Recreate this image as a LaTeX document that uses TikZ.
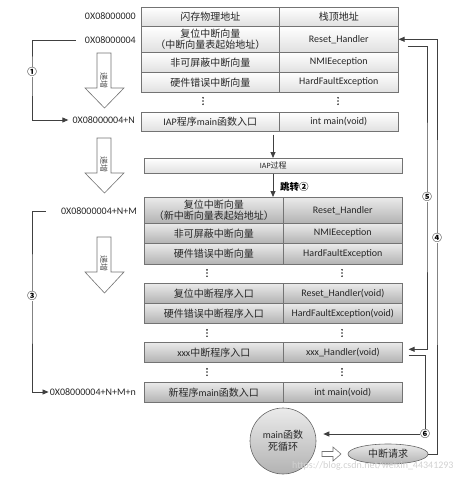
\documentclass[tikz,border=0pt]{standalone}
\usepackage{fontspec}
\setmainfont{Carlito}
\newfontfamily\cjk{Noto Sans CJK SC}
\usetikzlibrary{shapes.geometric,arrows.meta,calc}
\begin{document}
\begin{tikzpicture}[x=1pt,y=-1pt,
  wcell/.style={draw=black!55, line width=0.6pt, top color=white, bottom color=black!12, inner sep=0pt, anchor=north west, align=center, text=black!85, font=\fontsize{10}{11.5}\selectfont},
  gcell/.style={wcell, top color=black!8, bottom color=black!30},
  lbl/.style={anchor=east, inner sep=0pt, text=black!85, font=\fontsize{10}{11}\selectfont},
  conn/.style={draw=black!75, line width=0.8pt},
  arr/.style={conn, -{Triangle[length=6pt,width=5pt]}},
  circnum/.style={fill=white, inner sep=0.3pt, text=black, font=\cjk\bfseries\fontsize{9.5}{10}\selectfont},
  blockarr/.style={draw=black!55, fill=white, line width=0.6pt},
  dotc/.style={fill=black!85, draw=none},
]
\useasboundingbox (0,0) rectangle (474,479);

% ---------- top table ----------
\node[wcell, minimum width=138pt, minimum height=19pt] (a1) at (141,7) {\cjk 闪存物理地址};
\node[wcell, minimum width=119pt, minimum height=19pt] (b1) at (279,7) {\cjk 栈顶地址};
\node[wcell, minimum width=138pt, minimum height=26pt] (a2) at (141,26) {\cjk 复位中断向量\\\cjk（中断向量表起始地址）};
\node[wcell, minimum width=119pt, minimum height=26pt] (b2) at (279,26) {Reset\_Handler};
\node[wcell, minimum width=138pt, minimum height=20pt] (a3) at (141,52) {\cjk 非可屏蔽中断向量};
\node[wcell, minimum width=119pt, minimum height=20pt] (b3) at (279,52) {NMIEeception};
\node[wcell, minimum width=138pt, minimum height=20pt] (a4) at (141,72) {\cjk 硬件错误中断向量};
\node[wcell, minimum width=119pt, minimum height=20pt] (b4) at (279,72) {HardFaultException};
\node[wcell, minimum width=138pt, minimum height=19pt] (a5) at (141,112) {IAP{\cjk 程序}main{\cjk 函数入口}};
\node[wcell, minimum width=119pt, minimum height=19pt] (b5) at (279,112) {int main(void)};

% IAP process
\node[wcell, minimum width=258pt, minimum height=15pt, font=\fontsize{8}{9}\selectfont] (iap) at (144,158) {IAP{\cjk 过程}};

% ---------- gray table ----------
\node[gcell, minimum width=139pt, minimum height=26pt] (g1a) at (144,197) {\cjk 复位中断向量\\\cjk（新中断向量表起始地址）};
\node[gcell, minimum width=119pt, minimum height=26pt] (g1b) at (283,197) {Reset\_Handler};
\node[gcell, minimum width=139pt, minimum height=20pt] (g2a) at (144,223) {\cjk 非可屏蔽中断向量};
\node[gcell, minimum width=119pt, minimum height=20pt] (g2b) at (283,223) {NMIEeception};
\node[gcell, minimum width=139pt, minimum height=21pt] (g3a) at (144,243) {\cjk 硬件错误中断向量};
\node[gcell, minimum width=119pt, minimum height=21pt] (g3b) at (283,243) {HardFaultException};
\node[gcell, minimum width=139pt, minimum height=20pt] (g4a) at (144,283) {\cjk 复位中断程序入口};
\node[gcell, minimum width=119pt, minimum height=20pt] (g4b) at (283,283) {Reset\_Handler(void)};
\node[gcell, minimum width=139pt, minimum height=20pt] (g5a) at (144,303) {\cjk 硬件错误中断程序入口};
\node[gcell, minimum width=119pt, minimum height=20pt] (g5b) at (283,303) {HardFaultException(void)};
\node[gcell, minimum width=139pt, minimum height=20pt] (g6a) at (144,342) {xxx{\cjk 中断程序入口}};
\node[gcell, minimum width=119pt, minimum height=20pt] (g6b) at (283,342) {xxx\_Handler(void)};
\node[gcell, minimum width=139pt, minimum height=20pt] (g7a) at (144,382) {\cjk 新程序{\rmfamily main}函数入口};
\node[gcell, minimum width=119pt, minimum height=20pt] (g7b) at (283,382) {int main(void)};

% ---------- vertical dots ----------
\foreach \px/\py in {203/101, 338/101, 207/273, 342/273, 207/333, 342/333, 207/372, 342/372}{
  \fill[dotc] (\px,\py-3.2) circle (0.95pt);
  \fill[dotc] (\px,\py) circle (0.95pt);
  \fill[dotc] (\px,\py+3.2) circle (0.95pt);
}

% ---------- address labels ----------
\node[lbl] (n1) at (136,16) {0X08000000};
\node[lbl] (n2) at (136,40) {0X08000004};
\node[lbl] (n3) at (135,120) {0X08000004+N};
\node[lbl] (n4) at (137,211) {0X08000004+N+M};
\node[lbl] (n5) at (136,392) {0X08000004+N+M+n};

% ---------- block arrows ----------
\foreach \ya/\yb/\yc in {53/88/108, 138/173/193, 237/272/293}{
  \draw[blockarr] (97,\ya) -- (111,\ya) -- (111,\yb) -- (124,\yb) -- (104.5,\yc) -- (85,\yb) -- (97,\yb) -- cycle;
}
\node[rotate=-90, inner sep=0pt, text=black!70, font=\cjk\fontsize{8}{9}\selectfont] (t1) at (104,80) {递增};
\node[rotate=-90, inner sep=0pt, text=black!70, font=\cjk\fontsize{8}{9}\selectfont] (t2) at (104,164) {递增};
\node[rotate=-90, inner sep=0pt, text=black!70, font=\cjk\fontsize{8}{9}\selectfont] (t3) at (104,263) {递增};

% ---------- left brackets ----------
\coordinate (c1a) at ($(n2.west)+(-9,0)$);
\coordinate (c1b) at (32,72);
\draw[arr] (c1a) -| (c1b) |- ($(n3.west)+(-4,0)$);
\node[circnum] (k1) at (c1b) {①};

\coordinate (c3a) at ($(n4.west)+(-15,0)$);
\coordinate (c3b) at (32,296);
\draw[arr] (c3a) -| (c3b) |- ($(n5.west)+(-1,0)$);
\node[circnum] (k3) at (c3b) {③};

% ---------- centre arrows ----------
\draw[arr] ($(b5.south west)+(-6,3)$) -- (iap.north -| 273,0);
\draw[arr] (iap.south -| 273,0) -- (g1a.north -| 273,0);
\node[anchor=west, inner sep=0pt, font=\cjk\bfseries\fontsize{9.5}{10}\selectfont] (jump) at (280,187) {跳转②};

% ---------- bottom: main loop and interrupt ----------
\node[circle, draw=black!60, line width=0.6pt, top color=black!8, bottom color=black!30, minimum size=66pt, inner sep=0pt, align=center, text=black!85, font=\fontsize{10}{12}\selectfont] (loop) at (283,441) {main{\cjk 函数}\\{\cjk 死循环}};
\node[ellipse, draw=black!60, line width=0.6pt, top color=black!8, bottom color=black!30, minimum width=80pt, minimum height=20pt, inner sep=0pt, text=black!85, font=\cjk\fontsize{10}{11}\selectfont] (irq) at (388,454) {中断请求};
\draw[blockarr] (322,451.5) -- (333,451.5) -- (333,447) -- (341,454) -- (333,461) -- (333,456.5) -- (322,456.5) -- cycle;

% ---------- right loops ----------
\coordinate (c4) at (437,238);
\draw[arr] (irq.east) -| (c4) |- (b2.east);
\node[circnum] (k4) at (c4) {④};

\coordinate (c5) at (427,197);
\draw[arr] ($(b2.east)+(9,7)$) -| (c5) |- ($(g6b.east)+(6,-3)$);
\node[circnum] (k5) at (c5) {⑤};

\coordinate (c6) at (425,434);
\draw[arr] ($(g6b.east)+(6,3)$) -| (c6) -- ($(loop.east)+(7,-7)$);
\node[circnum] (k6) at (c6) {⑥};

% watermark
\node[anchor=west, inner sep=0pt, text=black!18, font=\fontsize{10}{11}\selectfont] (wm) at (292,466) {https://blog.csdn.net/weixin\_44341293};
\end{tikzpicture}
\end{document}
